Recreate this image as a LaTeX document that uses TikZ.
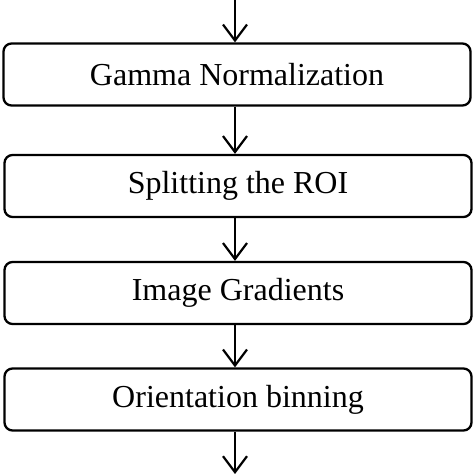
\documentclass[tikz,border=0pt]{standalone}
\usepackage{fontspec}
\setmainfont{Liberation Serif}
\usetikzlibrary{arrows.meta}
\begin{document}
\begin{tikzpicture}[x=1pt,y=-1pt,
  stepbox/.style={draw=black, line width=2.3pt, rounded corners=8pt,
    minimum width=467pt, minimum height=62pt, inner sep=0pt,
    font=\fontsize{32}{36}\selectfont},
  flow/.style={line width=2.2pt, -{Straight Barb[length=16pt,width=24pt,line width=2.2pt]}}]
\useasboundingbox (0,0) rectangle (474,474);
\fill[white] (0,0) rectangle (474,474);
\node[stepbox] (b1) at (237,74.5) {Gamma Normalization};
\node[stepbox] (b2) at (238,186) {Splitting the ROI};
\node[stepbox] (b3) at (238,293) {Image Gradients};
\node[stepbox] (b4) at (238,399.5) {Orientation binning};
\coordinate (top) at (235,0);
\coordinate (bot) at (235,474);
\draw[flow] (top) -- (b1.north -| top);
\draw[flow] (b1.south -| top) -- (b2.north -| top);
\draw[flow] (b2.south -| top) -- (b3.north -| top);
\draw[flow] (b3.south -| top) -- (b4.north -| top);
\draw[flow] (b4.south -| top) -- (bot);
\end{tikzpicture}
\end{document}
